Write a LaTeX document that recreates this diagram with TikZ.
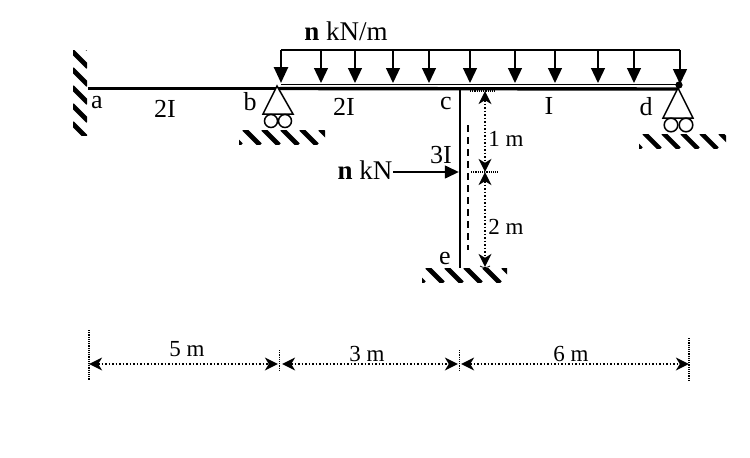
\documentclass[tikz,border=0pt]{standalone}
\usepackage{fontspec}
\setmainfont{Liberation Serif}
\usetikzlibrary{arrows.meta}
\newcommand{\hatchrow}[5]{% x0 y0 x1 y1 step
  \begin{scope}
    \clip (#1,#2) rectangle (#3,#4);
    \pgfmathsetmacro{\hh}{#4-#2}
    \pgfmathsetmacro{\xs}{#1-\hh-#5}
    \pgfmathsetmacro{\xn}{\xs+#5}
    \foreach \hx in {\xs,\xn,...,#3}
      \draw[hatchline] (\hx,#2-1) -- ++(\hh+2,\hh+2);
  \end{scope}}
\tikzset{
  x=1pt,y=-1pt,
  hatchline/.style={line width=4.6pt,black},
  beam/.style={line width=3.4pt,black},
  thinbeam/.style={line width=1.4pt,black},
  load/.style={line width=1.3pt,black,-{Triangle[length=15pt,width=14pt]}},
  loadbig/.style={line width=2.6pt,black,-{Triangle[length=16pt,width=14pt]}},
  dimline/.style={line width=1.5pt,black,dotted,{Stealth[length=13pt,width=13pt,inset=4pt,line width=0pt]}-{Stealth[length=13pt,width=13pt,inset=4pt,line width=0pt]}},
  tickline/.style={line width=1.2pt,black,densely dotted},
  support/.style={line width=1.5pt,black,fill=white},
  lbl/.style={inner sep=0pt,font=\fontsize{26}{26}\selectfont,text=black},
  loadlbl/.style={inner sep=0pt,font=\fontsize{27}{27}\selectfont,text=black},
  dimlbl/.style={inner sep=0pt,font=\fontsize{23}{23}\selectfont,text=black},
  pt/.style={inner sep=0pt,minimum size=0pt},
}
\begin{document}
\begin{tikzpicture}
\useasboundingbox (0,0) rectangle (750,458);
\fill[white] (0,0) rectangle (750,458);
% hatching
\begin{scope}
  \clip (73,50) rectangle (87,135);
  \foreach \hy in {34,52,...,140}
    \draw[hatchline] (72,\hy-1) -- ++(16,16);
\end{scope}
\hatchrow{239}{130}{325}{144}{19}
\hatchrow{639}{134}{726}{148}{19}
\hatchrow{422}{268}{507}{282}{19}
% named points
\node[pt] (a) at (88,88.5) {};
\node[pt] (b) at (280,88.5) {};
\node[pt] (c) at (460,89) {};
\node[pt] (d) at (678,89) {};
\node[pt] (e) at (460,268) {};
\node[pt] (topL) at (281,50) {};
\node[pt] (topR) at (680,50) {};
\node[pt] (bup) at (281,84.5) {};
\node[pt] (dup) at (678,84.5) {};
\node[pt] (fhead) at (459,172) {};
\node[pt] (ftail) at (393,172) {};
\node[pt] (dashT) at (468,125) {};
\node[pt] (dashB) at (468,250) {};
% beams
\draw[beam] (a) -- (b);
\draw[beam] (b) -- (d);
\draw[thinbeam] (bup) -- (dup);
\draw[line width=1.9pt] (c) -- (e);
\draw[line width=1.3pt,dash pattern=on 7pt off 5pt] (dashT) -- (dashB);
% load
\draw[line width=1.3pt] (topL) -- (topR);
\draw[loadbig] (topL) -- (281,83);
\foreach \lx in {321,355,393,429,470,515,555,598,634}
  \draw[load] (\lx,50) -- (\lx,83);
\draw[load,line width=1.6pt] (topR) -- (680,84);
% supports
\draw[support] (277,86) -- (293,114) -- (263,114) -- cycle;
\draw[support] (271,121) circle (6.5);
\draw[support] (285,121) circle (6.5);
\draw[support] (678,88) -- (693,118) -- (663,118) -- cycle;
\draw[support] (671,125) circle (6.8);
\draw[support] (686,125) circle (6.8);
\fill[black] (679,85) circle (3.6);
% force
\draw[line width=1.4pt,-{Triangle[length=14pt,width=13pt]}] (ftail) -- (fhead);
% vertical dimensions
\node[pt] (v0) at (485,91) {};
\node[pt] (v1) at (485,172) {};
\node[pt] (v2) at (485,267) {};
\draw[dimline] (v0) -- (v1);
\draw[dimline] (v1) -- (v2);
\draw[tickline] (470,91) -- (496,91);
\draw[tickline] (471,172) -- (498,172);
\draw[line width=.8pt] (480,266) .. controls (483,268) and (487,268) .. (490,266);
% horizontal dimensions
\node[pt] (h0) at (89,364) {};
\node[pt] (h1) at (278,364) {};
\node[pt] (h1b) at (282,364) {};
\node[pt] (h2) at (458,364) {};
\node[pt] (h2b) at (461,364) {};
\node[pt] (h3) at (689,364) {};
\draw[dimline] (h0) -- (h1);
\draw[dimline] (h1b) -- (h2);
\draw[dimline] (h2b) -- (h3);
\draw[tickline] (89,330) -- (89,380);
\draw[tickline] (279.5,350) -- (279.5,371);
\draw[tickline] (459.5,350) -- (459.5,372);
\draw[tickline] (689,338) -- (689,381);
% labels
\node[lbl] (la) at (97,103) {a};
\node[lbl] (l2a) at (165,109) {2I};
\node[lbl] (lb) at (250,102) {b};
\node[lbl] (l2b) at (344,107) {2I};
\node[lbl] (lc) at (446,103) {c};
\node[lbl] (lI) at (549,106) {I};
\node[lbl] (ld) at (646,107) {d};
\node[lbl] (l3) at (441,155) {3I};
\node[lbl] (le) at (445,258) {e};
\node[loadlbl] (lq) at (346,31) {\textbf{n} kN/m};
\node[loadlbl] (lf) at (365,170) {\textbf{n} kN};
\node[dimlbl] (m1) at (506,139) {1 m};
\node[dimlbl] (m2) at (506,227) {2 m};
\node[dimlbl] (m5) at (187,349) {5 m};
\node[dimlbl] (m3) at (367,354) {3 m};
\node[dimlbl] (m6) at (571,354) {6 m};
\end{tikzpicture}
\end{document}
